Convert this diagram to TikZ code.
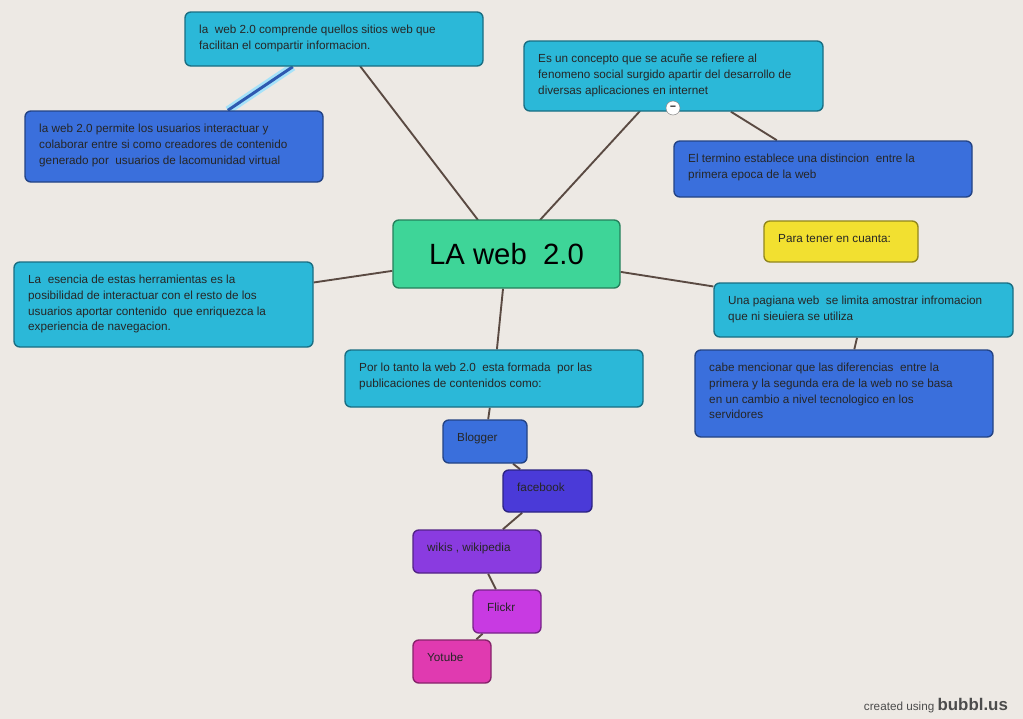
\documentclass[tikz,border=0pt]{standalone}
\usepackage{fontspec}
\setmainfont{Liberation Sans}
\usetikzlibrary{backgrounds}
\pgfdeclarelayer{bottom}
\pgfsetlayers{bottom,background,main}
\definecolor{bg}{HTML}{EDE9E4}
\definecolor{cy}{HTML}{2BB8D8}
\definecolor{bl}{HTML}{3A6FDC}
\definecolor{gr}{HTML}{3ED598}
\definecolor{ye}{HTML}{F2E030}
\definecolor{ind}{HTML}{4A3AD8}
\definecolor{pu}{HTML}{8A3BE0}
\definecolor{ma}{HTML}{C83AE2}
\definecolor{pk}{HTML}{E03AB0}
\definecolor{ln}{HTML}{5A4A42}
\tikzset{
 box/.style={draw=#1!60!black,line width=1.2pt,rounded corners=5pt,fill=#1,inner sep=0pt},
 conn/.style={draw=ln,line width=1.6pt}
}
\begin{document}
\begin{tikzpicture}[x=0.03cm,y=-0.03cm]
\begin{pgfonlayer}{bottom}
\fill[bg] (0,0) rectangle (1023,719);
\end{pgfonlayer}
\useasboundingbox (0,0) rectangle (1023,719);
\newcommand\bx[7]{% name, color, x1,y1,x2,y2, text
 \node[box=#2,minimum width={(#5-#3)*0.03cm},minimum height={(#6-#4)*0.03cm}] (#1) at ({(#3+#5)/2},{(#4+#6)/2}) {};
 \node[anchor=north west,align=left,font=\fontsize{10}{13.4}\selectfont,text=black!85,inner sep=0pt] (#1t) at (#3+14,#4+13) {#7};}
\node[box=gr,minimum width={227*0.03cm},minimum height={68*0.03cm},font=\fontsize{25}{28}\selectfont] (c) at (506.5,254) {LA web\ \ 2.0};
\bx{top}{cy}{185}{12}{483}{66}{la\ \ web 2.0 comprende quellos sitios web que\\facilitan el compartir informacion.}
\bx{lb}{bl}{25}{111}{323}{182}{la web 2.0 permite los usuarios interactuar y\\colaborar entre si como creadores de contenido\\generado por\ \ usuarios de lacomunidad virtual}
\bx{tr}{cy}{524}{41}{823}{111}{Es un concepto que se acuñe se refiere al\\fenomeno social surgido apartir del desarrollo de\\diversas aplicaciones en internet}
\bx{rb}{bl}{674}{141}{972}{197}{El termino establece una distincion\ \ entre la\\primera epoca de la web}
\bx{y}{ye}{764}{221}{918}{262}{Para tener en cuanta:}
\bx{l}{cy}{14}{262}{313}{347}{La\ \ esencia de estas herramientas es la\\posibilidad de interactuar con el resto de los\\usuarios aportar contenido\ \ que enriquezca la\\experiencia de navegacion.}
\bx{rc}{cy}{714}{283}{1013}{337}{Una pagiana web\ \ se limita amostrar infromacion\\que ni sieuiera se utiliza}
\bx{rl}{bl}{695}{350}{993}{437}{cabe mencionar que las diferencias\ \ entre la\\primera y la segunda era de la web no se basa\\en un cambio a nivel tecnologico en los\\servidores}
\bx{bt}{cy}{345}{350}{643}{407}{Por lo tanto la web 2.0\ \ esta formada\ \ por las\\publicaciones de contenidos como:}
\bx{b1}{bl}{443}{420}{527}{463}{Blogger}
\bx{b2}{ind}{503}{470}{592}{512}{facebook}
\bx{b3}{pu}{413}{530}{541}{573}{wikis , wikipedia}
\bx{b4}{ma}{473}{590}{541}{633}{Flickr}
\bx{b5}{pk}{413}{640}{491}{683}{Yotube}
\node[circle,draw=gray,fill=white,inner sep=0pt,minimum size=12pt,font=\bfseries\small] (m) at (673,108) {--};
\coordinate (c1) at (478,220); \coordinate (c2) at (540,220);
\coordinate (top1) at (360,66); \coordinate (tr1) at (640,111);
\begin{scope}[on background layer]
\draw[conn] (c1) -- (top1);
\draw[conn] (c2) -- (tr1);
\draw[conn] (tr) -- (rb);
\draw[line width=7pt,cyan!35] (top) -- (lb);
\draw[line width=2.5pt,bl!80!black] (top) -- (lb);
\draw[conn] (c) -- (l);
\draw[conn] (c) -- (rc);
\draw[conn] (rc) -- (rl);
\draw[conn] (c) -- (bt);
\draw[conn] (bt) -- (b1);
\draw[conn] (b1) -- (b2);
\draw[conn] (b2) -- (b3);
\draw[conn] (b3) -- (b4);
\draw[conn] (b4) -- (b5);
\end{scope}
\node[anchor=east,font=\fontsize{10}{12}\selectfont,text=black!70] (cr) at (1012,706) {created using \textbf{\Large bubbl.us}};
\end{tikzpicture}
\end{document}
